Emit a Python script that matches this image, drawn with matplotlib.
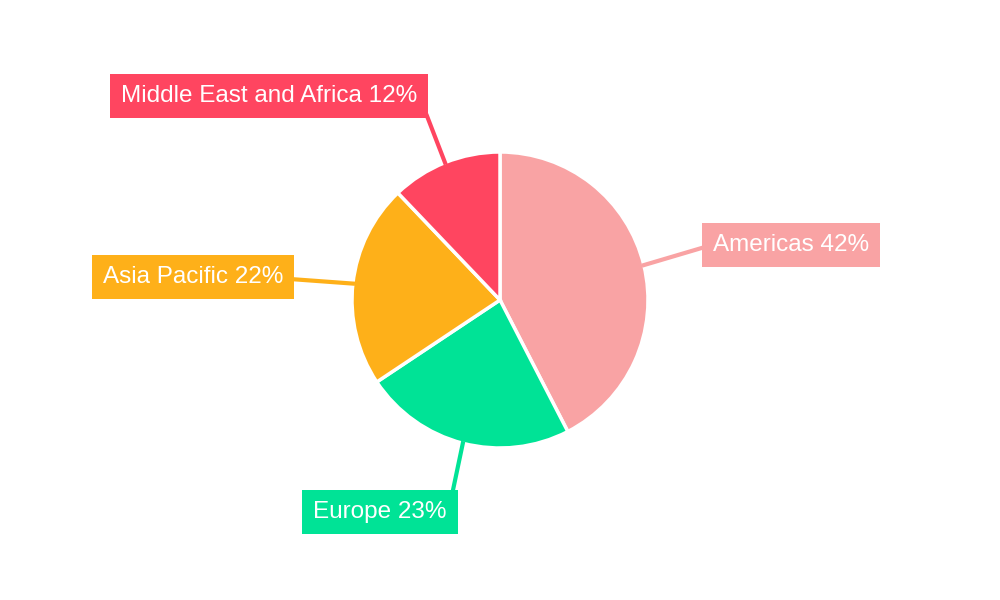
import matplotlib
matplotlib.use("Agg")
import matplotlib.pyplot as plt
import numpy as np

labels = ["Americas", "Europe", "Asia Pacific", "Middle East and Africa"]
values = [42, 23, 22, 12]
colors = ["#F9A3A4", "#00E396", "#FEB019", "#FF4560"]

plt.rcParams['font.family'] = ['Liberation Sans', 'DejaVu Sans']
fig = plt.figure(figsize=(10, 6), dpi=100)
ax = fig.add_axes([0, 0, 1, 1])
cx, cy, R = 500, 300, 148
wedges, _ = ax.pie(values, colors=colors, startangle=90, counterclock=False,
                   center=(cx, cy), radius=R, frame=True,
                   wedgeprops=dict(edgecolor='white', linewidth=2.5))
ax.set_xlim(0, 1000); ax.set_ylim(0, 600); ax.axis('off')
ax.set_aspect('equal')

# label layout: (line end x, y, text x, y, ha)
layout = [(705, 353, 713, 355, 'left'),
          (453, 110, 380, 88, 'center'),
          (290, 321, 283, 323, 'right'),
          (427, 484, 417, 504, 'right')]
for w, lab, v, c, (lx, ly, tx, ty, ha) in zip(wedges, labels, values, colors, layout):
    ang = np.deg2rad((w.theta1 + w.theta2) / 2)
    sx, sy = cx + R * np.cos(ang), cy + R * np.sin(ang)
    ax.plot([sx, lx], [sy, ly], color=c, lw=3, zorder=1)
    ax.text(tx, ty, f"{lab} {v}%", ha=ha, va='center', fontsize=17.5, color='white',
            bbox=dict(boxstyle='square,pad=0.45', fc=c, ec='none'), zorder=3)
fig.savefig("out.png", dpi=100)
